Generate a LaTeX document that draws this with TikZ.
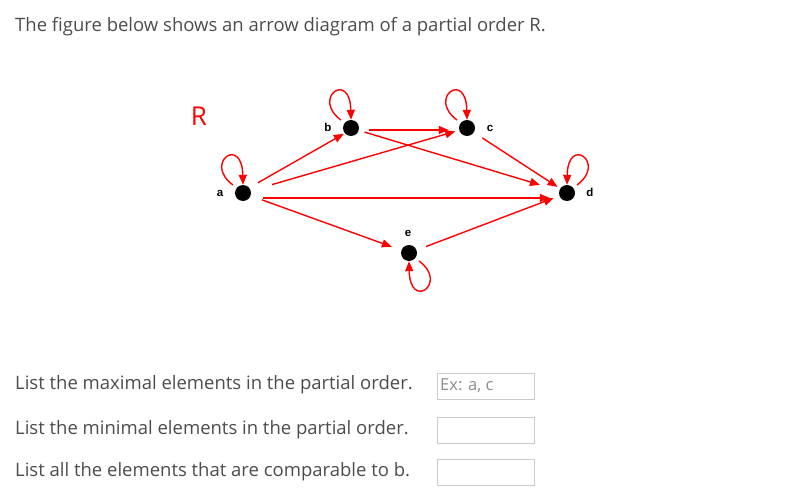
\documentclass[tikz,border=0pt]{standalone}
\usepackage{fontspec}
\setmainfont{Open Sans}
\setsansfont{Liberation Sans}
\usetikzlibrary{arrows.meta}
\begin{document}
\begin{tikzpicture}[x=1pt,y=-1pt,
  dot/.style={circle,fill=black,inner sep=0pt,minimum size=16pt},
  lbl/.style={font=\sffamily\bfseries\fontsize{11.5}{13}\selectfont},
  arr/.style={draw=red,line width=1.4pt,-{Triangle[length=10pt,width=8pt]}},
  txt/.style={anchor=west,text=black!70,font=\fontsize{18.5}{21}\selectfont,inner sep=0pt},
  box/.style={draw=black!20,line width=1pt,minimum width=97pt,minimum height=26pt,inner sep=2pt,anchor=north west}]
\useasboundingbox (0,0) rectangle (806,500);
\node[txt] (title) at (15,27) {The figure below shows an arrow diagram of a partial order R.};
\node[text=red,font=\fontsize{26}{30}\selectfont] (R) at (199,116) {R};
\node[dot] (a) at (243,193) {};
\node[dot] (b) at (351,128) {};
\node[dot] (c) at (467,128) {};
\node[dot] (d) at (567,193) {};
\node[dot] (e) at (409,253) {};
\node[lbl] (la) at (220,193) {a};
\node[lbl] (lb) at (328,127) {b};
\node[lbl] (lc) at (490,128) {c};
\node[lbl] (ld) at (590,192) {d};
\node[lbl] (le) at (408,233) {e};
\draw[arr,shorten <=10pt,shorten >=1pt] (a.40) -- (b.220);
\draw[arr,shorten <=22pt,shorten >=4pt] (a) -- (c);
\draw[arr,shorten <=12pt,shorten >=9pt] ([yshift=-5pt]a.east) -- ([yshift=-5pt]d.west);
\draw[arr,shorten <=12pt,shorten >=10pt] (a) -- (e);
\draw[arr,shorten <=10pt,shorten >=6pt] (e) -- (d);
\draw[arr,shorten <=10pt,shorten >=10pt] ([yshift=-2pt]b.east) -- ([yshift=-2pt]c.west);
\draw[arr,shorten <=6pt,shorten >=20pt] (b) -- (d);
\draw[arr,shorten <=10pt,shorten >=3pt] (c) -- (d);
\draw[arr] ([shift={(-10,-8)}]b.center) .. controls +(-30,-22) and +(-1,-50) .. (b.north);
\draw[arr] ([shift={(-10,-8)}]c.center) .. controls +(-30,-22) and +(-1,-50) .. (c.north);
\draw[arr] ([shift={(-10,-8)}]a.center) .. controls +(-30,-22) and +(-1,-50) .. (a.north);
\draw[arr] ([shift={(10,-8)}]d.center) .. controls +(30,-22) and +(1,-50) .. (d.north);
\draw[arr] ([shift={(10,8)}]e.center) .. controls +(30,22) and +(1,50) .. (e.south);
\node[txt] (q1) at (15,385) {List the maximal elements in the partial order.};
\node[txt] (q2) at (15,430) {List the minimal elements in the partial order.};
\node[txt] (q3) at (15,472) {List all the elements that are comparable to b.};
\node[box] (b1) at (437,373) {};
\node[box] (b2) at (437,417) {};
\node[box] (b3) at (437,459) {};
\node[anchor=west,text=black!45,font=\fontsize{16.5}{18}\selectfont,inner sep=0pt] (ph) at (440,386) {Ex: a, c};
\end{tikzpicture}
\end{document}
